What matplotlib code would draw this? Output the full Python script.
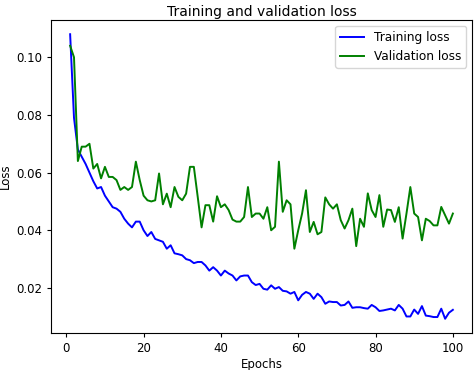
import matplotlib
matplotlib.use("Agg")
import matplotlib.pyplot as plt
import numpy as np

epochs = list(range(1, 101))

training_loss = [
    0.108, 0.079, 0.068, 0.0655, 0.063, 0.060, 0.057, 0.0545, 0.055, 0.052,
    0.050, 0.048, 0.0475, 0.0464, 0.044, 0.0423, 0.041, 0.043, 0.043, 0.040,
    0.038, 0.0394, 0.037, 0.0365, 0.036, 0.0336, 0.0348, 0.032, 0.0317, 0.0313,
    0.030, 0.0296, 0.0286, 0.029, 0.029, 0.0278, 0.026, 0.0272, 0.026, 0.0243,
    0.026, 0.025, 0.0243, 0.0226, 0.024, 0.0243, 0.0243, 0.022, 0.021, 0.0214,
    0.0197, 0.0194, 0.0209, 0.0197, 0.0203, 0.019, 0.0188, 0.018, 0.0186, 0.0157,
    0.0176, 0.0186, 0.018, 0.0162, 0.018, 0.0168, 0.0145, 0.0153, 0.0151, 0.0151,
    0.0139, 0.0141, 0.0153, 0.0131, 0.0133, 0.0133, 0.013, 0.0128, 0.0141, 0.0133,
    0.012, 0.0122, 0.0125, 0.0128, 0.0122, 0.0141, 0.0128, 0.0101, 0.0101, 0.0125,
    0.011, 0.0137, 0.0104, 0.0102, 0.0099, 0.0099, 0.0128, 0.0093, 0.0114, 0.0124,
]

validation_loss = [
    0.104, 0.100, 0.064, 0.069, 0.069, 0.070, 0.0614, 0.063, 0.058, 0.062,
    0.0585, 0.0585, 0.0574, 0.054, 0.055, 0.054, 0.055, 0.0638, 0.0574, 0.052,
    0.0504, 0.050, 0.0504, 0.0597, 0.049, 0.0527, 0.048, 0.055, 0.0516, 0.0504,
    0.0527, 0.062, 0.062, 0.0516, 0.041, 0.0487, 0.0487, 0.043, 0.0518, 0.048,
    0.049, 0.047, 0.0437, 0.043, 0.043, 0.0446, 0.055, 0.0446, 0.0458, 0.0458,
    0.044, 0.048, 0.040, 0.0412, 0.0638, 0.0464, 0.0504, 0.049, 0.0336, 0.040,
    0.0458, 0.0539, 0.0394, 0.0429, 0.0386, 0.0394, 0.0514, 0.049, 0.0475, 0.049,
    0.0435, 0.0406, 0.0435, 0.0475, 0.0345, 0.044, 0.0412, 0.0528, 0.047, 0.0446,
    0.0522, 0.0412, 0.0472, 0.047, 0.0429, 0.048, 0.0371, 0.0458, 0.055, 0.0458,
    0.0446, 0.0365, 0.044, 0.0432, 0.0417, 0.0417, 0.0481, 0.0452, 0.0423, 0.0458,
]

W, H = 474, 370
fig = plt.figure(figsize=(W / 100, H / 100), dpi=100)
ax = fig.add_axes([51 / W, 1 - 333 / H, (472 - 51) / W, (333 - 20) / H])

ax.plot(epochs, training_loss, color="b", lw=1.4, label="Training loss")
ax.plot(epochs, validation_loss, color="g", lw=1.4, label="Validation loss")

ax.set_title("Training and validation loss", fontsize=10, pad=3)
ax.set_xlabel("Epochs", fontsize=8.5, labelpad=2)
ax.set_ylabel("Loss", fontsize=8.5, labelpad=3)
ax.set_xticks([0, 20, 40, 60, 80, 100])
ax.set_yticks([0.02, 0.04, 0.06, 0.08, 0.10])
ax.tick_params(labelsize=8.5, length=3)
ax.legend(fontsize=8.7, loc="upper right")

fig.savefig("out.png", dpi=100)
